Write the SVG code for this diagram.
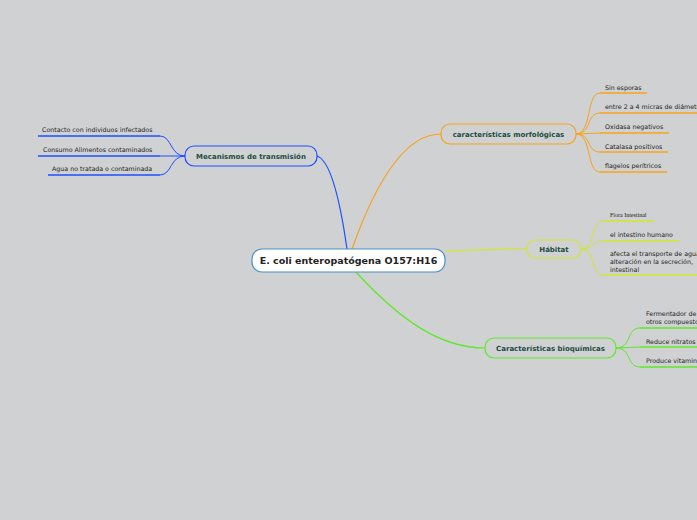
<svg xmlns="http://www.w3.org/2000/svg" width="697" height="520" viewBox="0 0 697 520">
<style>
text{font-family:"DejaVu Sans",Verdana,sans-serif;font-size:6.3px;fill:#222}
.n{font-weight:bold;fill:#1b4d3e;font-size:7px;text-anchor:middle}
.c{fill:none;stroke-width:1.2}
.u{fill:none;stroke-width:1.6}
</style>
<rect width="697" height="520" fill="#d0d1d3"/>
<g id="connectors">
<path class="c" stroke="#1f4fff" d="M347,249 C340,200 330,160 317,156"/>
<path class="c" stroke="#f7a21b" d="M352,249 C380,170 410,134 441,134"/>
<path class="c" stroke="#d4e82a" d="M445,251 C480,250 500,249 527,249"/>
<path class="c" stroke="#5ee82a" d="M355,271 C400,320 440,348 485,348"/>
<g stroke="#1f4fff" fill="none">
<path d="M185,156 C170,156 172,136 160,136"/><path d="M185,156 L160,156"/><path d="M185,156 C170,156 172,175 160,175"/>
<path class="u" d="M38,136H160M38,156H160M48,175H160"/>
</g>
<g stroke="#f7a21b" fill="none">
<path d="M576,134 C592,134 586,93 600,93"/><path d="M576,134 C592,134 586,113 600,113"/><path d="M576,134 L600,133"/><path d="M576,134 C592,134 586,152 600,152"/><path d="M576,134 C592,134 586,172 600,172"/>
<path class="u" d="M600,93H647M600,113H697M600,133H669M600,152H668M600,172H667"/>
</g>
<g stroke="#d4e82a" fill="none">
<path d="M581,249 C596,249 590,221 604,221"/><path d="M581,249 C596,249 590,241 604,241"/><path d="M581,249 C596,249 590,275 604,275"/>
<path class="u" d="M604,221H654M604,241H679M604,275H697"/>
</g>
<g stroke="#5ee82a" fill="none">
<path d="M616,348 C632,348 626,328 640,328"/><path d="M616,348 L640,347"/><path d="M616,348 C632,348 626,367 640,367"/>
<path class="u" d="M640,328H697M640,347H697M640,367H697"/>
</g>
</g>
<g id="central"><rect x="252" y="249" width="193" height="23" rx="10" fill="#fff" stroke="#4a90c8" stroke-width="1.2"/><text x="348.5" y="264" class="n" style="font-size:9.5px;fill:#222">E. coli enteropatógena O157:H16</text></g>
<g id="mecanismos"><rect x="185" y="146" width="132" height="20" rx="9" fill="#d0d1d3" stroke="#1f4fff" stroke-width="1.2"/><text x="251" y="159" class="n">Mecanismos de transmisión</text></g>
<g id="morfologicas"><rect x="441" y="124" width="135" height="20" rx="9" fill="#d0d1d3" stroke="#f7a21b" stroke-width="1.2"/><text x="508.5" y="137" class="n">características morfológicas</text></g>
<g id="habitat"><rect x="527" y="240" width="54" height="18" rx="8" fill="#d0d1d3" stroke="#d4e82a" stroke-width="1.2"/><text x="554" y="252" class="n">Hábitat</text></g>
<g id="bioquimicas"><rect x="485" y="338" width="131" height="20" rx="9" fill="#d0d1d3" stroke="#5ee82a" stroke-width="1.2"/><text x="550.5" y="351" class="n">Características bioquímicas</text></g>
<g id="leaves">
<text x="42" y="132">Contacto con individuos infectados</text>
<text x="43" y="152">Consumo Alimentos contaminados</text>
<text x="52" y="171">Agua no tratada o contaminada</text>
<text x="605" y="90">Sin esporas</text>
<text x="605" y="109">entre 2 a 4 micras de diámetro</text>
<text x="605" y="129">Oxidasa negativos</text>
<text x="605" y="149">Catalasa positivos</text>
<text x="605" y="168">flagelos perítricos</text>
<text x="610" y="217" style="font-family:'Liberation Serif',serif;font-size:6px">Flora Intestinal</text>
<text x="610" y="237">el intestino humano</text>
<text x="610" y="256">afecta el transporte de agua y</text>
<text x="610" y="264">alteración en la secreción,</text>
<text x="610" y="272">intestinal</text>
<text x="646" y="316">Fermentador de</text>
<text x="646" y="324">otros compuestos</text>
<text x="646" y="344">Reduce nitratos</text>
<text x="646" y="363">Produce vitamina</text>
</g>
</svg>
